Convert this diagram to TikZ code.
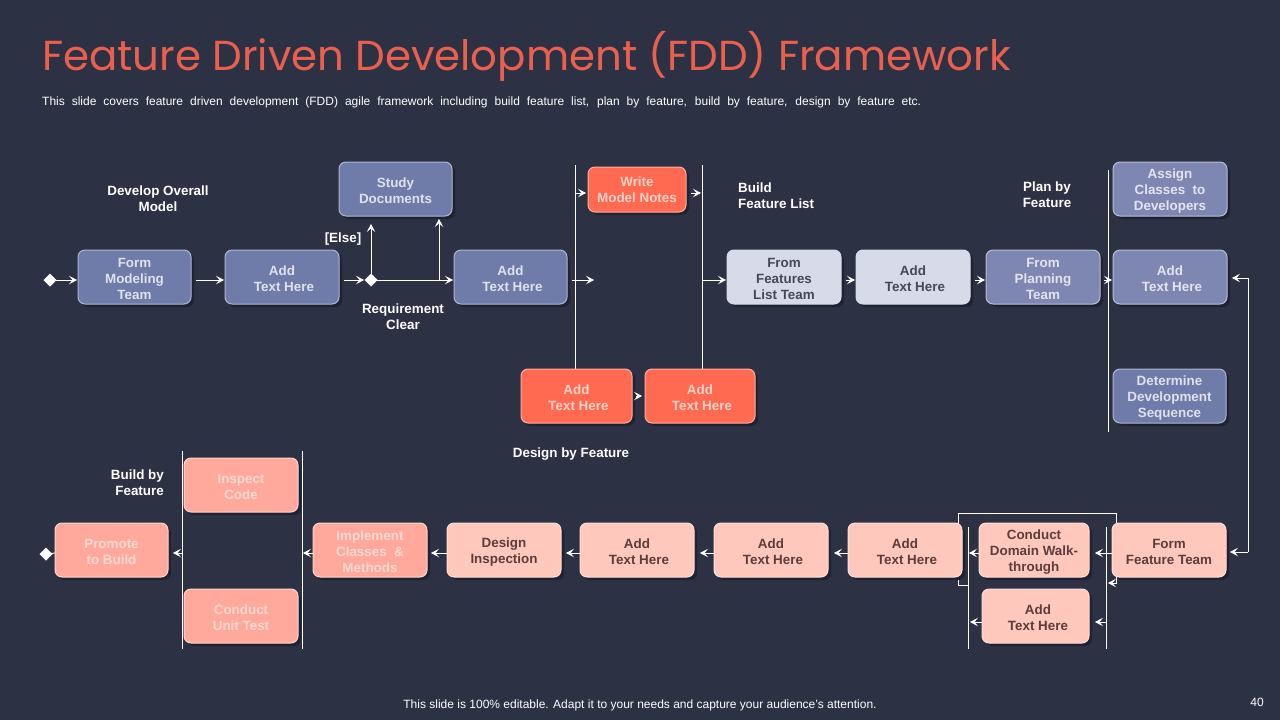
\documentclass[tikz,border=0pt]{standalone}
\usepackage{fontspec}
\setmainfont{Liberation Sans}
\newfontfamily\titlefont{Poppins}
\usetikzlibrary{arrows.meta,shadows,calc}
\definecolor{bgc}{HTML}{2C3144}
\definecolor{shc}{HTML}{1E2231}
\definecolor{titlec}{HTML}{E9604E}
\definecolor{redfill}{HTML}{FF6A50}
\definecolor{pinkfill}{HTML}{FFC8BC}
\definecolor{salmonfill}{HTML}{FFA99C}
\definecolor{lightfill}{HTML}{D7DBE9}
\definecolor{textgrey}{HTML}{44485A}
\definecolor{textbrown}{HTML}{5C3C3C}
\definecolor{bluea}{HTML}{6F7BA9}
\definecolor{blueb}{HTML}{7E87B2}
\tikzset{
  px/.style={x=1pt,y=-1pt},
  card/.style={draw,line width=1pt,rounded corners=7pt,inner sep=0pt,outer sep=0pt,align=center,
    font=\fontsize{13.4}{16}\selectfont\bfseries,
    drop shadow={shadow xshift=3pt,shadow yshift=-3pt,fill=shc,opacity=1}},
  bluec/.style={card,fill=bluea,draw=bluea!55!white,text=bluea!22!white},
  bluel/.style={card,fill=blueb,draw=blueb!55!white,text=blueb!22!white},
  redc/.style={card,fill=redfill,draw=redfill!55!white,text=redfill!30!white},
  pinkc/.style={card,fill=pinkfill,draw=pinkfill!60!white,text=textbrown},
  salmonc/.style={card,fill=salmonfill,draw=salmonfill!50!white,text=salmonfill!45!white},
  lightc/.style={card,fill=lightfill,draw=lightfill,text=textgrey},
  ttl/.style={text=white,font=\fontsize{13.4}{16}\selectfont\bfseries,inner sep=0pt,align=center},
  wire/.style={draw=white,line width=0.9pt},
  arr/.style={wire,-{Stealth[length=8pt,width=8.5pt,inset=3.5pt]}},
}
\newcommand{\dn}{\rule{0pt}{13.5pt}}
\newcommand{\ath}{\dn Add\\\hspace*{4pt}Text Here}
\newcommand{\bx}[7]{\node[#6,minimum width={(#4-#2)*1pt},minimum height={(#5-#3)*1pt}] (#1) at ({(#2+#4)/2},{(#3+#5)/2}) {#7};}
\newcommand{\dmd}[3]{\fill[white] ({#2-6.5},#3) -- (#2,{#3-6.5}) -- ({#2+6.5},#3) -- (#2,{#3+6.5}) -- cycle; \coordinate (#1) at (#2,#3);}
\begin{document}
\begin{tikzpicture}[px]
\useasboundingbox (0,0) rectangle (1280,720);
\fill[bgc] (0,0) rectangle (1280,720);

% texts
\node[anchor=west,inner sep=0pt,text=titlec,font=\titlefont\fontsize{41.9}{48}\selectfont] (title) at (42,56) {Feature Driven Development (FDD) Framework};
\node[anchor=west,inner sep=0pt,text=white,font=\fontsize{12}{14}\selectfont] (sub) at (42,102) {\makebox[879pt][s]{This slide covers feature driven development (FDD) agile framework including build feature list, plan by feature, build by feature, design by feature etc.}};
\node[inner sep=0pt,text=white,font=\fontsize{12}{14}\selectfont] (foot) at (640,705) {This slide is 100\% editable. Adapt it to your needs and capture your audience's attention.};
\node[inner sep=0pt,text=white,font=\fontsize{12}{14}\selectfont] (pg) at (1257,702) {40};

\node[ttl] (l1) at (158,199) {Develop Overall\\Model};
\node[ttl] (l2) at (343,239) {[Else]};
\node[ttl] (l3) at (403,317) {Requirement\\Clear};
\node[ttl,align=left,anchor=west] (l4) at (738,196) {Build\\Feature List};
\node[ttl] (l5) at (1047,195) {Plan by\\Feature};
\node[ttl] (l6) at (571,454) {Design by Feature};
\node[ttl,align=right,anchor=east] (l7) at (164,483) {Build by\\Feature};

% bars and free coordinates
\coordinate (b1t) at (575,165); \coordinate (b1b) at (575,369);
\coordinate (b2t) at (702,165); \coordinate (b2b) at (702,369);
\coordinate (b3t) at (1108,170); \coordinate (b3b) at (1108,432);
\coordinate (b4t) at (182,451); \coordinate (b4b) at (182,649);
\coordinate (b5t) at (302,451); \coordinate (b5b) at (302,649);
\coordinate (b6t) at (968,527); \coordinate (b6b) at (968,649);
\coordinate (b7t) at (1106,527); \coordinate (b7b) at (1106,649);
\draw[wire] (b1t) -- (b1b);
\draw[wire] (b2t) -- (b2b);
\draw[wire] (b3t) -- (b3b);
\draw[wire] (b4t) -- (b4b);
\draw[wire] (b5t) -- (b5b);
\draw[wire] (b6t) -- (b6b);
\draw[wire] (b7t) -- (b7b);

% loop behind boxes
\coordinate (k0) at (1116,523); \coordinate (k1) at (1116,513); \coordinate (k2) at (958,513);
\coordinate (k3) at (958,585); \coordinate (k4) at (968,585);
\draw[wire] (k0) -- (k1) -- (k2) -- (k3) -- (k4);

% boxes
\bx{form}{78}{250}{191}{304}{bluec}{\dn Form\\Modeling\\Team}
\bx{add1}{225}{250}{339}{304}{bluec}{\ath}
\bx{study}{339}{162}{452}{216}{bluec}{\dn Study\\Documents}
\bx{add2}{454}{250}{567}{304}{bluec}{\ath}
\bx{write}{588}{167}{686}{212}{redc}{Write\\Model Notes}
\bx{red1}{521}{369}{632}{423}{redc}{\ath}
\bx{red2}{645}{369}{755}{423}{redc}{\ath}
\bx{feat}{727}{250}{841}{304}{lightc}{\dn From\\Features\\List Team}
\bx{add3}{856}{250}{970}{304}{lightc}{\ath}
\bx{plan}{986}{250}{1100}{304}{bluel}{\dn From\\Planning\\Team}
\bx{assign}{1113}{162}{1227}{216}{bluel}{\dn Assign\\Classes\ \ to\\Developers}
\bx{add4}{1113}{250}{1227}{304}{bluel}{\ath}
\bx{det}{1113}{369}{1226}{423}{bluec}{\dn Determine\\Development\\Sequence}
\bx{team}{1112}{523}{1226}{577}{pinkc}{\dn Form\\Feature Team}
\bx{walk}{979}{523}{1089}{577}{pinkc}{\dn Conduct\\Domain Walk-\\through}
\bx{add5}{982}{589}{1089}{643}{pinkc}{\dn\hspace*{5pt}Add\\\hspace*{5pt}Text Here}
\bx{add6}{848}{523}{962}{577}{pinkc}{\ath}
\bx{add7}{714}{523}{828}{577}{pinkc}{\ath}
\bx{add8}{580}{523}{694}{577}{pinkc}{\ath}
\bx{insp}{447}{523}{561}{577}{pinkc}{\dn Design\\Inspection}
\bx{impl}{313}{523}{427}{577}{salmonc}{\dn Implement\\Classes\ \ \&\\Methods}
\bx{prom}{55}{523}{168}{577}{salmonc}{\dn Promote\\to Build}
\bx{code}{184}{458}{298}{512}{salmonc}{\dn Inspect\\Code}
\bx{unit}{184}{589}{298}{643}{salmonc}{\dn Conduct\\Unit Test}

% diamonds
\dmd{s}{50}{280}
\dmd{d}{371}{280}
\dmd{e}{46}{554}
\coordinate (j) at (439,280);
\coordinate (fa) at (594,280);
\coordinate (fb) at (1248,278);
\coordinate (fc) at (1248,552);
\coordinate (fd) at (1116,583);
\coordinate (r1) at (0,280);
\coordinate (r2) at (0,553);
\coordinate (r3) at (0,622);
\coordinate (r4) at (0,193);

% top row connectors
\draw[arr] (s -| 55,0) -- ([xshift=-1pt]form.west |- r1);
\draw[arr] ([xshift=5pt]form.east |- r1) -- ([xshift=-1pt]add1.west |- r1);
\draw[arr] ([xshift=5pt]add1.east |- r1) -- ([xshift=-7pt]d);
\draw[arr] (d) -- ([xshift=-1pt]add2.west |- r1);
\draw[arr] (d) -- ([yshift=-8pt]d |- study.south);
\draw[arr] (j) -- ([yshift=-3pt]j |- study.south);
\draw[arr] ([xshift=5pt]add2.east |- r1) -- (fa);
\draw[arr] (b1t |- r4) -- ([xshift=-2pt]write.west |- r4);
\draw[arr] ([xshift=5pt]write.east |- r4) -- ([xshift=-1pt]b2t |- r4);
\draw[arr] (b2t |- r1) -- ([xshift=-1pt]feat.west |- r1);
\draw[arr] ([xshift=4pt]red1.east) -- ([xshift=-3pt]red2.west);
\draw[arr] ([xshift=5pt]feat.east |- r1) -- ([xshift=-1pt]add3.west |- r1);
\draw[arr] ([xshift=5pt]add3.east |- r1) -- ([xshift=-1pt]plan.west |- r1);
\draw[arr] ([xshift=4pt]plan.east |- r1) -- ([xshift=-1pt]add4.west |- r1);

% return loop
\draw[arr] (fc) -- (fb) -- ([xshift=5pt]add4.east |- fb);
\draw[arr] (fc) -- ([xshift=4pt]team.east |- fc);

% bottom row connectors
\draw[arr] (team.west |- r2) -- ([xshift=-11pt]b7t |- r2) ;
\draw[arr] (walk.west |- r2) -- ([xshift=1pt]b6t |- r2);
\draw[arr] (add5.west |- r3) -- ([xshift=2pt]b6t |- r3);
\draw[arr] (b7t |- r3) -- ([xshift=-11pt]b7t |- r3);
\draw[arr] (1116,577) -- (fd) -- (1108,583);
\draw[arr] (add6.west |- r2) -- ([xshift=6pt]add7.east |- r2);
\draw[arr] (add7.west |- r2) -- ([xshift=6pt]add8.east |- r2);
\draw[arr] (add8.west |- r2) -- ([xshift=5pt]insp.east |- r2);
\draw[arr] (insp.west |- r2) -- ([xshift=4pt]impl.east |- r2);
\draw[arr] (impl.west |- r2) -- ([xshift=1pt]b5t |- r2);
\draw[arr] (b4t |- r2) -- ([xshift=5pt]prom.east |- r2);
\draw[wire] (prom.west |- r2) -- (e);
\end{tikzpicture}
\end{document}
